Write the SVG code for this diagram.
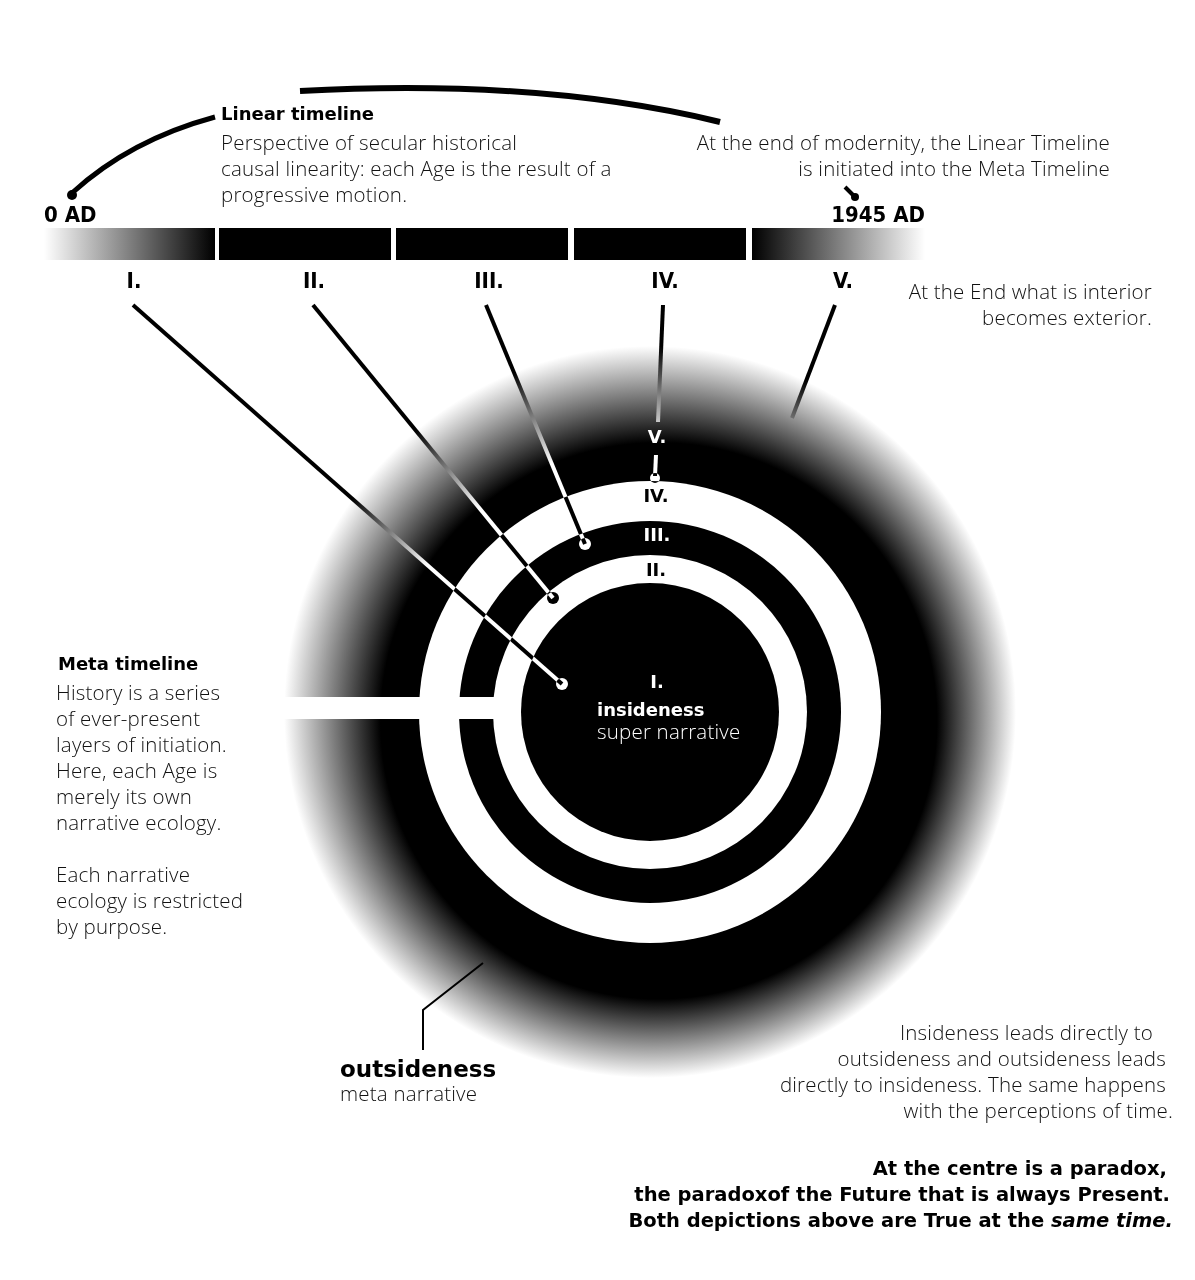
<svg xmlns="http://www.w3.org/2000/svg" width="1195" height="1280" viewBox="0 0 1195 1280">
<style>
.t{font-family:"Open Sans",Lato,sans-serif;font-size:20.5px;font-weight:300;fill:#111;letter-spacing:0.2px}
.b{font-family:"DejaVu Sans","Liberation Sans",sans-serif;font-weight:bold;fill:#000}
.n{font-family:"Liberation Sans Narrow","DejaVu Sans Condensed","Liberation Sans",sans-serif;font-weight:bold;fill:#000}
.ln{stroke:#fff;stroke-width:4;fill:none;mix-blend-mode:difference}
.dt{fill:#fff;mix-blend-mode:difference}
</style>
<defs>
<radialGradient id="og" cx="0.5" cy="0.5" r="0.5" fx="0.55" fy="0.55">
<stop offset="0" stop-color="#000"/><stop offset="0.76" stop-color="#000"/><stop offset="1" stop-color="#fff"/>
</radialGradient>
<linearGradient id="lg1"><stop offset="0" stop-color="#fff"/><stop offset="1" stop-color="#000"/></linearGradient>
<linearGradient id="lg2"><stop offset="0" stop-color="#000"/><stop offset="1" stop-color="#fff"/></linearGradient>
</defs>
<rect width="1195" height="1280" fill="#fff"/>
<g id="outer"><circle cx="650" cy="712" r="366" fill="url(#og)"/></g>
<g id="rings">
<circle cx="650" cy="712" r="231" fill="#fff"/>
<circle cx="650" cy="712" r="191" fill="#000"/>
<circle cx="650" cy="712" r="157" fill="#fff"/>
<circle cx="650" cy="712" r="129" fill="#000"/>
<rect x="282" y="697" width="218" height="22" fill="#fff"/>
</g>
<g id="timeline">
<rect x="44" y="228" width="171" height="32" fill="url(#lg1)"/>
<rect x="219" y="228" width="172" height="32" fill="#000"/>
<rect x="396" y="228" width="172" height="32" fill="#000"/>
<rect x="574" y="228" width="172" height="32" fill="#000"/>
<rect x="752" y="228" width="173" height="32" fill="url(#lg2)"/>
<text class="n" x="44" y="222" font-size="22">0 AD</text>
<text class="n" x="925" y="222" font-size="22" text-anchor="end">1945 AD</text>
<g class="n" font-size="22" text-anchor="middle">
<text x="134" y="288">I.</text><text x="314" y="288">II.</text><text x="489" y="288">III.</text><text x="665" y="288">IV.</text><text x="843" y="288">V.</text>
</g>
</g>
<g id="connectors">
<path d="M72,193 Q130,140 215,117" stroke="#000" stroke-width="5" fill="none"/>
<circle cx="72" cy="195" r="5" fill="#000"/>
<path d="M300,91 Q540,78 720,122" stroke="#000" stroke-width="6" fill="none"/>
<path d="M845,187 L853,195" stroke="#000" stroke-width="4"/><circle cx="855" cy="197" r="4" fill="#000"/>
<line class="ln" x1="133" y1="305" x2="562" y2="684"/><circle class="dt" cx="562" cy="684" r="6"/>
<line class="ln" x1="313" y1="305" x2="553" y2="598"/><circle class="dt" cx="553" cy="598" r="6"/>
<line class="ln" x1="486" y1="305" x2="585" y2="544"/><circle class="dt" cx="585" cy="544" r="6"/>
<line class="ln" x1="663" y1="305" x2="658" y2="422"/>
<line class="ln" x1="656" y1="455" x2="655" y2="476"/><circle class="dt" cx="655" cy="478" r="5"/>
<line class="ln" x1="835" y1="305" x2="792" y2="418"/>
<polyline points="483,963 423,1010 423,1050" stroke="#000" stroke-width="2" fill="none"/>
</g>
<g id="center-labels" font-size="18" text-anchor="middle">
<text class="b" x="657" y="443" style="fill:#fff">V.</text>
<text class="b" x="656" y="502">IV.</text>
<text class="b" x="657" y="541" style="fill:#fff">III.</text>
<text class="b" x="656" y="576">II.</text>
<text class="b" x="657" y="688" style="fill:#fff">I.</text>
</g>
<g id="insideness">
<text class="b" x="597" y="716" font-size="18" style="fill:#fff">insideness</text>
<text class="t" x="597" y="739" style="fill:#fff">super narrative</text>
</g>
<g id="linear-text">
<text class="b" x="221" y="120" font-size="18">Linear timeline</text>
<text class="t" x="221" y="150">Perspective of secular historical</text>
<text class="t" x="221" y="176">causal linearity: each Age is the result of a</text>
<text class="t" x="221" y="202">progressive motion.</text>
</g>
<g id="end-text" text-anchor="end">
<text class="t" x="1110" y="150">At the end of modernity, the Linear Timeline</text>
<text class="t" x="1110" y="176">is initiated into the Meta Timeline</text>
<text class="t" x="1152" y="299">At the End what is interior</text>
<text class="t" x="1152" y="325">becomes exterior.</text>
</g>
<g id="meta-text">
<text class="b" x="58" y="670" font-size="18">Meta timeline</text>
<text class="t" x="56" y="700">History is a series</text>
<text class="t" x="56" y="726">of ever-present</text>
<text class="t" x="56" y="752">layers of initiation.</text>
<text class="t" x="56" y="778">Here, each Age is</text>
<text class="t" x="56" y="804">merely its own</text>
<text class="t" x="56" y="830">narrative ecology.</text>
<text class="t" x="56" y="882">Each narrative</text>
<text class="t" x="56" y="908">ecology is restricted</text>
<text class="t" x="56" y="934">by purpose.</text>
</g>
<g id="outsideness">
<text class="b" x="340" y="1077" font-size="23">outsideness</text>
<text class="t" x="340" y="1101">meta narrative</text>
</g>
<g id="bottom-text" text-anchor="end">
<text class="t" x="1153" y="1040">Insideness leads directly to</text>
<text class="t" x="1166" y="1066">outsideness and outsideness leads</text>
<text class="t" x="1166" y="1092">directly to insideness. The same happens</text>
<text class="t" x="1173" y="1118">with the perceptions of time.</text>
<text class="b" x="1167" y="1175" font-size="19.5">At the centre is a paradox,</text>
<text class="b" x="1170" y="1201" font-size="19.5">the paradoxof the Future that is always Present.</text>
<text class="b" x="1173" y="1227" font-size="19.5">Both depictions above are True at the <tspan font-style="italic">same time.</tspan></text>
</g>
</svg>
